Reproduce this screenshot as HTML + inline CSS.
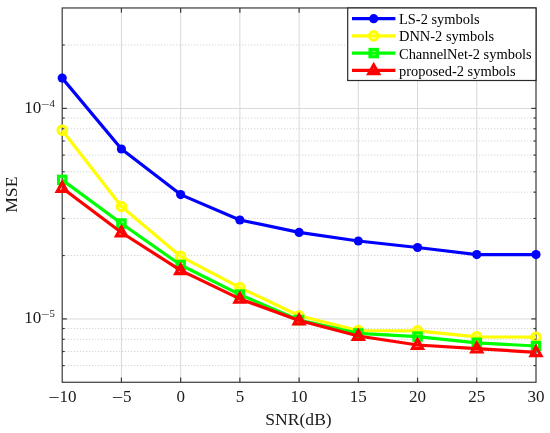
<!DOCTYPE html>
<html><head><meta charset="utf-8"><title>MSE vs SNR</title>
<style>
html,body{margin:0;padding:0;background:#fff;}
svg{display:block;}
text{font-family:"Liberation Serif","DejaVu Serif",serif;fill:#1a1a1a;}
.tk{font-size:17px;}
.sup{font-size:10.3px;}
.lab{font-size:17.6px;}
.leg{font-size:14.45px;fill:#000;}
</style></head><body>
<svg width="550" height="433" viewBox="0 0 550 433">
<rect x="0" y="0" width="550" height="433" fill="#fff"/>
<g stroke="#dadada" stroke-width="1.05" fill="none">
<line x1="121.43" y1="7.97" x2="121.43" y2="382.27"/>
<line x1="180.65" y1="7.97" x2="180.65" y2="382.27"/>
<line x1="239.88" y1="7.97" x2="239.88" y2="382.27"/>
<line x1="299.10" y1="7.97" x2="299.10" y2="382.27"/>
<line x1="358.32" y1="7.97" x2="358.32" y2="382.27"/>
<line x1="417.55" y1="7.97" x2="417.55" y2="382.27"/>
<line x1="476.77" y1="7.97" x2="476.77" y2="382.27"/>
<line x1="62.2" y1="108.40" x2="536.0" y2="108.40"/>
<line x1="62.2" y1="318.90" x2="536.0" y2="318.90"/>
</g>
<g stroke="#cacaca" stroke-width="1" stroke-dasharray="1 2" fill="none">
<line x1="65.2" y1="45.03" x2="536.0" y2="45.03"/>
<line x1="65.2" y1="255.53" x2="536.0" y2="255.53"/>
<line x1="65.2" y1="218.47" x2="536.0" y2="218.47"/>
<line x1="65.2" y1="192.17" x2="536.0" y2="192.17"/>
<line x1="65.2" y1="171.77" x2="536.0" y2="171.77"/>
<line x1="65.2" y1="155.10" x2="536.0" y2="155.10"/>
<line x1="65.2" y1="141.01" x2="536.0" y2="141.01"/>
<line x1="65.2" y1="128.80" x2="536.0" y2="128.80"/>
<line x1="65.2" y1="118.03" x2="536.0" y2="118.03"/>
<line x1="65.2" y1="365.60" x2="536.0" y2="365.60"/>
<line x1="65.2" y1="351.51" x2="536.0" y2="351.51"/>
<line x1="65.2" y1="339.30" x2="536.0" y2="339.30"/>
<line x1="65.2" y1="328.53" x2="536.0" y2="328.53"/>
</g>
<g stroke="#3a3a3a" stroke-width="1.2" fill="none">
<rect x="62.2" y="7.97" width="473.80" height="374.30"/>
<line x1="121.43" y1="382.27" x2="121.43" y2="377.57"/>
<line x1="121.43" y1="7.97" x2="121.43" y2="12.67"/>
<line x1="180.65" y1="382.27" x2="180.65" y2="377.57"/>
<line x1="180.65" y1="7.97" x2="180.65" y2="12.67"/>
<line x1="239.88" y1="382.27" x2="239.88" y2="377.57"/>
<line x1="239.88" y1="7.97" x2="239.88" y2="12.67"/>
<line x1="299.10" y1="382.27" x2="299.10" y2="377.57"/>
<line x1="299.10" y1="7.97" x2="299.10" y2="12.67"/>
<line x1="358.32" y1="382.27" x2="358.32" y2="377.57"/>
<line x1="358.32" y1="7.97" x2="358.32" y2="12.67"/>
<line x1="417.55" y1="382.27" x2="417.55" y2="377.57"/>
<line x1="417.55" y1="7.97" x2="417.55" y2="12.67"/>
<line x1="476.77" y1="382.27" x2="476.77" y2="377.57"/>
<line x1="476.77" y1="7.97" x2="476.77" y2="12.67"/>
<line x1="62.2" y1="108.40" x2="66.9" y2="108.40"/>
<line x1="536.0" y1="108.40" x2="531.3" y2="108.40"/>
<line x1="62.2" y1="318.90" x2="66.9" y2="318.90"/>
<line x1="536.0" y1="318.90" x2="531.3" y2="318.90"/>
<line x1="62.2" y1="45.03" x2="64.7" y2="45.03"/>
<line x1="536.0" y1="45.03" x2="533.5" y2="45.03"/>
<line x1="62.2" y1="255.53" x2="64.7" y2="255.53"/>
<line x1="536.0" y1="255.53" x2="533.5" y2="255.53"/>
<line x1="62.2" y1="218.47" x2="64.7" y2="218.47"/>
<line x1="536.0" y1="218.47" x2="533.5" y2="218.47"/>
<line x1="62.2" y1="192.17" x2="64.7" y2="192.17"/>
<line x1="536.0" y1="192.17" x2="533.5" y2="192.17"/>
<line x1="62.2" y1="171.77" x2="64.7" y2="171.77"/>
<line x1="536.0" y1="171.77" x2="533.5" y2="171.77"/>
<line x1="62.2" y1="155.10" x2="64.7" y2="155.10"/>
<line x1="536.0" y1="155.10" x2="533.5" y2="155.10"/>
<line x1="62.2" y1="141.01" x2="64.7" y2="141.01"/>
<line x1="536.0" y1="141.01" x2="533.5" y2="141.01"/>
<line x1="62.2" y1="128.80" x2="64.7" y2="128.80"/>
<line x1="536.0" y1="128.80" x2="533.5" y2="128.80"/>
<line x1="62.2" y1="118.03" x2="64.7" y2="118.03"/>
<line x1="536.0" y1="118.03" x2="533.5" y2="118.03"/>
<line x1="62.2" y1="365.60" x2="64.7" y2="365.60"/>
<line x1="536.0" y1="365.60" x2="533.5" y2="365.60"/>
<line x1="62.2" y1="351.51" x2="64.7" y2="351.51"/>
<line x1="536.0" y1="351.51" x2="533.5" y2="351.51"/>
<line x1="62.2" y1="339.30" x2="64.7" y2="339.30"/>
<line x1="536.0" y1="339.30" x2="533.5" y2="339.30"/>
<line x1="62.2" y1="328.53" x2="64.7" y2="328.53"/>
<line x1="536.0" y1="328.53" x2="533.5" y2="328.53"/>
</g>
<text class="tk" transform="translate(48.25,402.9) scale(1.19,1)">−</text>
<text class="tk" transform="translate(59.55,402.4) scale(1.0,1)">10</text>
<text class="tk" transform="translate(111.73,402.9) scale(1.19,1)">−</text>
<text class="tk" transform="translate(123.03,402.4) scale(1.0,1)">5</text>
<text class="tk" transform="translate(180.65,402.4) scale(1.0,1)" text-anchor="middle">0</text>
<text class="tk" transform="translate(239.88,402.4) scale(1.0,1)" text-anchor="middle">5</text>
<text class="tk" transform="translate(299.10,402.4) scale(1.0,1)" text-anchor="middle">10</text>
<text class="tk" transform="translate(358.32,402.4) scale(1.0,1)" text-anchor="middle">15</text>
<text class="tk" transform="translate(417.55,402.4) scale(1.0,1)" text-anchor="middle">20</text>
<text class="tk" transform="translate(476.77,402.4) scale(1.0,1)" text-anchor="middle">25</text>
<text class="tk" transform="translate(536.00,402.4) scale(1.0,1)" text-anchor="middle">30</text>
<text class="tk" transform="translate(24.3,112.70) scale(1.0,1)">10</text>
<text class="sup" transform="translate(41.2,107.60) scale(1.5,1)">−</text>
<text class="sup" transform="translate(49.6,106.90) scale(1.05,1)">4</text>
<text class="tk" transform="translate(24.3,323.20) scale(1.0,1)">10</text>
<text class="sup" transform="translate(41.2,318.10) scale(1.5,1)">−</text>
<text class="sup" transform="translate(49.6,317.40) scale(1.05,1)">5</text>
<text class="lab" x="298.5" y="425" text-anchor="middle">SNR(dB)</text>
<text class="lab" transform="translate(17,194.7) rotate(-90)" text-anchor="middle">MSE</text>
<g stroke="#0000ff" stroke-width="3.2" fill="none" stroke-linejoin="round">
<polyline points="62.20,78.10 121.43,149.00 180.65,194.60 239.88,220.00 299.10,232.40 358.32,241.00 417.55,247.50 476.77,254.60 536.00,254.60"/>
<circle cx="62.20" cy="78.10" r="4.6" fill="#0000ff" stroke="none"/>
<circle cx="121.43" cy="149.00" r="4.6" fill="#0000ff" stroke="none"/>
<circle cx="180.65" cy="194.60" r="4.6" fill="#0000ff" stroke="none"/>
<circle cx="239.88" cy="220.00" r="4.6" fill="#0000ff" stroke="none"/>
<circle cx="299.10" cy="232.40" r="4.6" fill="#0000ff" stroke="none"/>
<circle cx="358.32" cy="241.00" r="4.6" fill="#0000ff" stroke="none"/>
<circle cx="417.55" cy="247.50" r="4.6" fill="#0000ff" stroke="none"/>
<circle cx="476.77" cy="254.60" r="4.6" fill="#0000ff" stroke="none"/>
<circle cx="536.00" cy="254.60" r="4.6" fill="#0000ff" stroke="none"/>
</g>
<g stroke="#ffff00" stroke-width="3.2" fill="none" stroke-linejoin="round">
<polyline points="62.20,130.20 121.43,206.50 180.65,256.40 239.88,287.60 299.10,315.80 358.32,330.50 417.55,330.80 476.77,336.80 536.00,337.20"/>
<circle cx="62.20" cy="130.20" r="4.2"/>
<circle cx="121.43" cy="206.50" r="4.2"/>
<circle cx="180.65" cy="256.40" r="4.2"/>
<circle cx="239.88" cy="287.60" r="4.2"/>
<circle cx="299.10" cy="315.80" r="4.2"/>
<circle cx="358.32" cy="330.50" r="4.2"/>
<circle cx="417.55" cy="330.80" r="4.2"/>
<circle cx="476.77" cy="336.80" r="4.2"/>
<circle cx="536.00" cy="337.20" r="4.2"/>
</g>
<g stroke="#00ff00" stroke-width="3.2" fill="none" stroke-linejoin="round">
<polyline points="62.20,179.90 121.43,223.50 180.65,265.00 239.88,294.60 299.10,320.00 358.32,333.40 417.55,336.60 476.77,342.80 536.00,346.00"/>
<rect x="58.55" y="176.25" width="7.3" height="7.3" stroke-linejoin="miter"/>
<rect x="117.78" y="219.85" width="7.3" height="7.3" stroke-linejoin="miter"/>
<rect x="177.00" y="261.35" width="7.3" height="7.3" stroke-linejoin="miter"/>
<rect x="236.22" y="290.95" width="7.3" height="7.3" stroke-linejoin="miter"/>
<rect x="295.45" y="316.35" width="7.3" height="7.3" stroke-linejoin="miter"/>
<rect x="354.68" y="329.75" width="7.3" height="7.3" stroke-linejoin="miter"/>
<rect x="413.90" y="332.95" width="7.3" height="7.3" stroke-linejoin="miter"/>
<rect x="473.12" y="339.15" width="7.3" height="7.3" stroke-linejoin="miter"/>
<rect x="532.35" y="342.35" width="7.3" height="7.3" stroke-linejoin="miter"/>
</g>
<g stroke="#ff0000" stroke-width="3.2" fill="none" stroke-linejoin="round">
<polyline points="62.20,188.00 121.43,232.50 180.65,270.40 239.88,298.90 299.10,320.50 358.32,336.00 417.55,345.00 476.77,348.70 536.00,352.30"/>
<polygon points="62.20,182.60 57.27,191.30 67.13,191.30" stroke-linejoin="miter"/>
<polygon points="121.43,227.10 116.50,235.80 126.36,235.80" stroke-linejoin="miter"/>
<polygon points="180.65,265.00 175.72,273.70 185.58,273.70" stroke-linejoin="miter"/>
<polygon points="239.88,293.50 234.94,302.20 244.81,302.20" stroke-linejoin="miter"/>
<polygon points="299.10,315.10 294.17,323.80 304.03,323.80" stroke-linejoin="miter"/>
<polygon points="358.32,330.60 353.39,339.30 363.25,339.30" stroke-linejoin="miter"/>
<polygon points="417.55,339.60 412.62,348.30 422.48,348.30" stroke-linejoin="miter"/>
<polygon points="476.77,343.30 471.84,352.00 481.70,352.00" stroke-linejoin="miter"/>
<polygon points="536.00,346.90 531.07,355.60 540.93,355.60" stroke-linejoin="miter"/>
</g>
<rect x="347.7" y="7.97" width="188.30" height="72.53" fill="#fff" stroke="#2a2a2a" stroke-width="1.2"/>
<g stroke="#0000ff" stroke-width="3.2" fill="none">
<line x1="352" y1="18.7" x2="395.4" y2="18.7"/>
<circle cx="373.70" cy="18.70" r="4.6" fill="#0000ff" stroke="none"/>
</g>
<text class="leg" x="399" y="24.20">LS-2 symbols</text>
<g stroke="#ffff00" stroke-width="3.2" fill="none">
<line x1="352" y1="35.9" x2="395.4" y2="35.9"/>
<circle cx="373.70" cy="35.90" r="4.2"/>
</g>
<text class="leg" x="399" y="41.40">DNN-2 symbols</text>
<g stroke="#00ff00" stroke-width="3.2" fill="none">
<line x1="352" y1="53.1" x2="395.4" y2="53.1"/>
<rect x="370.05" y="49.45" width="7.3" height="7.3" stroke-linejoin="miter"/>
</g>
<text class="leg" x="399" y="58.60">ChannelNet-2 symbols</text>
<g stroke="#ff0000" stroke-width="3.2" fill="none">
<line x1="352" y1="70.4" x2="395.4" y2="70.4"/>
<polygon points="373.70,65.00 368.77,73.70 378.63,73.70" stroke-linejoin="miter"/>
</g>
<text class="leg" x="399" y="75.90">proposed-2 symbols</text>
</svg></body></html>
